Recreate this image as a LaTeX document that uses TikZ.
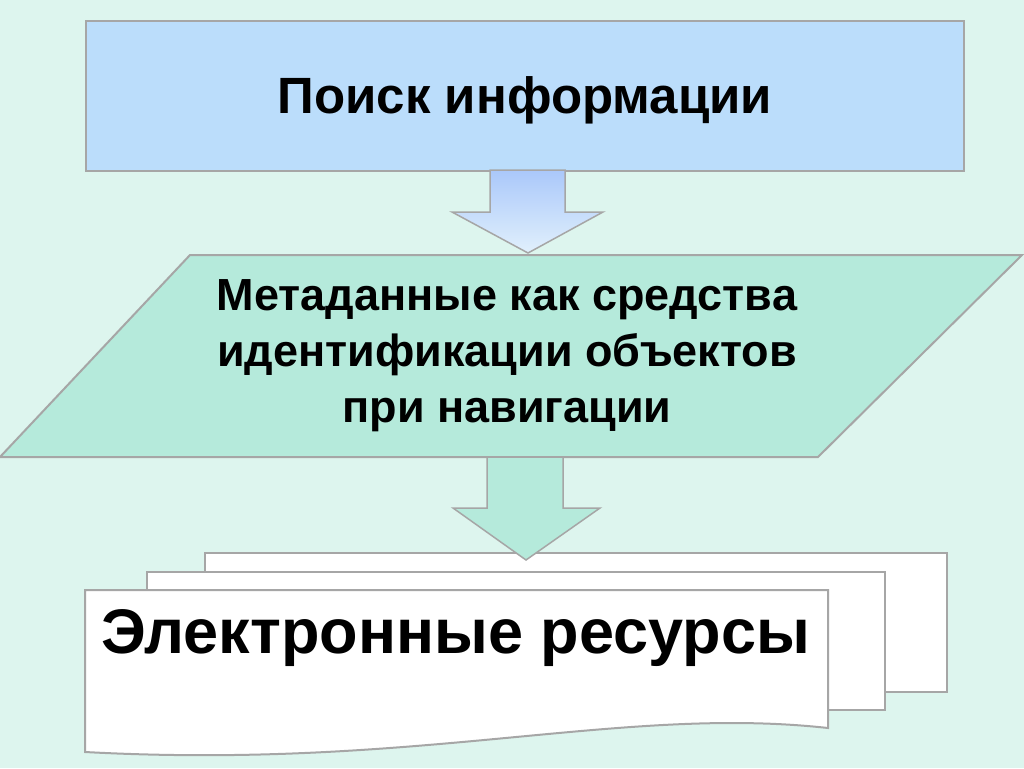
\documentclass[tikz,border=0pt]{standalone}
\usepackage{fontspec}
\setmainfont{Liberation Sans}
\begin{document}
\begin{tikzpicture}[x=1pt,y=-1pt,
  edge/.style={draw=black!35,line width=2pt},
  doc/.style={edge,fill=white}]
\useasboundingbox (0,0) rectangle (1024,768);
\fill[fill={rgb,255:red,221;green,245;blue,238}] (0,0) rectangle (1024,768);
% top box
\node[edge,fill={rgb,255:red,187;green,221;blue,251},minimum width=878pt,minimum height=150pt,anchor=north west,inner sep=0pt] (top) at (85,20) {};
\node[font=\bfseries\fontsize{51}{60}\selectfont] (toptext) at (525,100) {Поиск информации};
% arrow 1
\draw[edge,line width=1.5pt,top color={rgb,255:red,170;green,200;blue,250},bottom color={rgb,255:red,225;green,240;blue,252}]
  (490,170) -- (565,170) -- (565,212) -- (603,212) -- (528,253) -- (452,212) -- (490,212) -- cycle;
% parallelogram
\draw[edge,fill={rgb,255:red,181;green,234;blue,219}] (190,255) -- (1022,255) -- (818,457) -- (0,457) -- cycle;
\node[font=\bfseries\fontsize{45}{56}\selectfont,align=center] (mid) at (507,356) {Метаданные как средства\\идентификации объектов\\при навигации};
% documents
\draw[doc] (205,553) -- (947,553) -- (947,692) -- (205,692) -- cycle;
\draw[doc] (147,572) -- (885,572) -- (885,710) -- (147,710) -- cycle;
\draw[doc] (85,590) -- (828,590) -- (828,728) .. controls (620,705) and (420,770) .. (85,752) -- cycle;
\node[font=\bfseries\fontsize{63}{72}\selectfont,anchor=west] (res) at (98,638) {Электронные ресурсы};
% arrow 2
\draw[edge,line width=1.5pt,fill={rgb,255:red,181;green,234;blue,219}]
  (487,457) -- (563,457) -- (563,508) -- (600,508) -- (526,560) -- (453,508) -- (487,508) -- cycle;
\end{tikzpicture}
\end{document}
